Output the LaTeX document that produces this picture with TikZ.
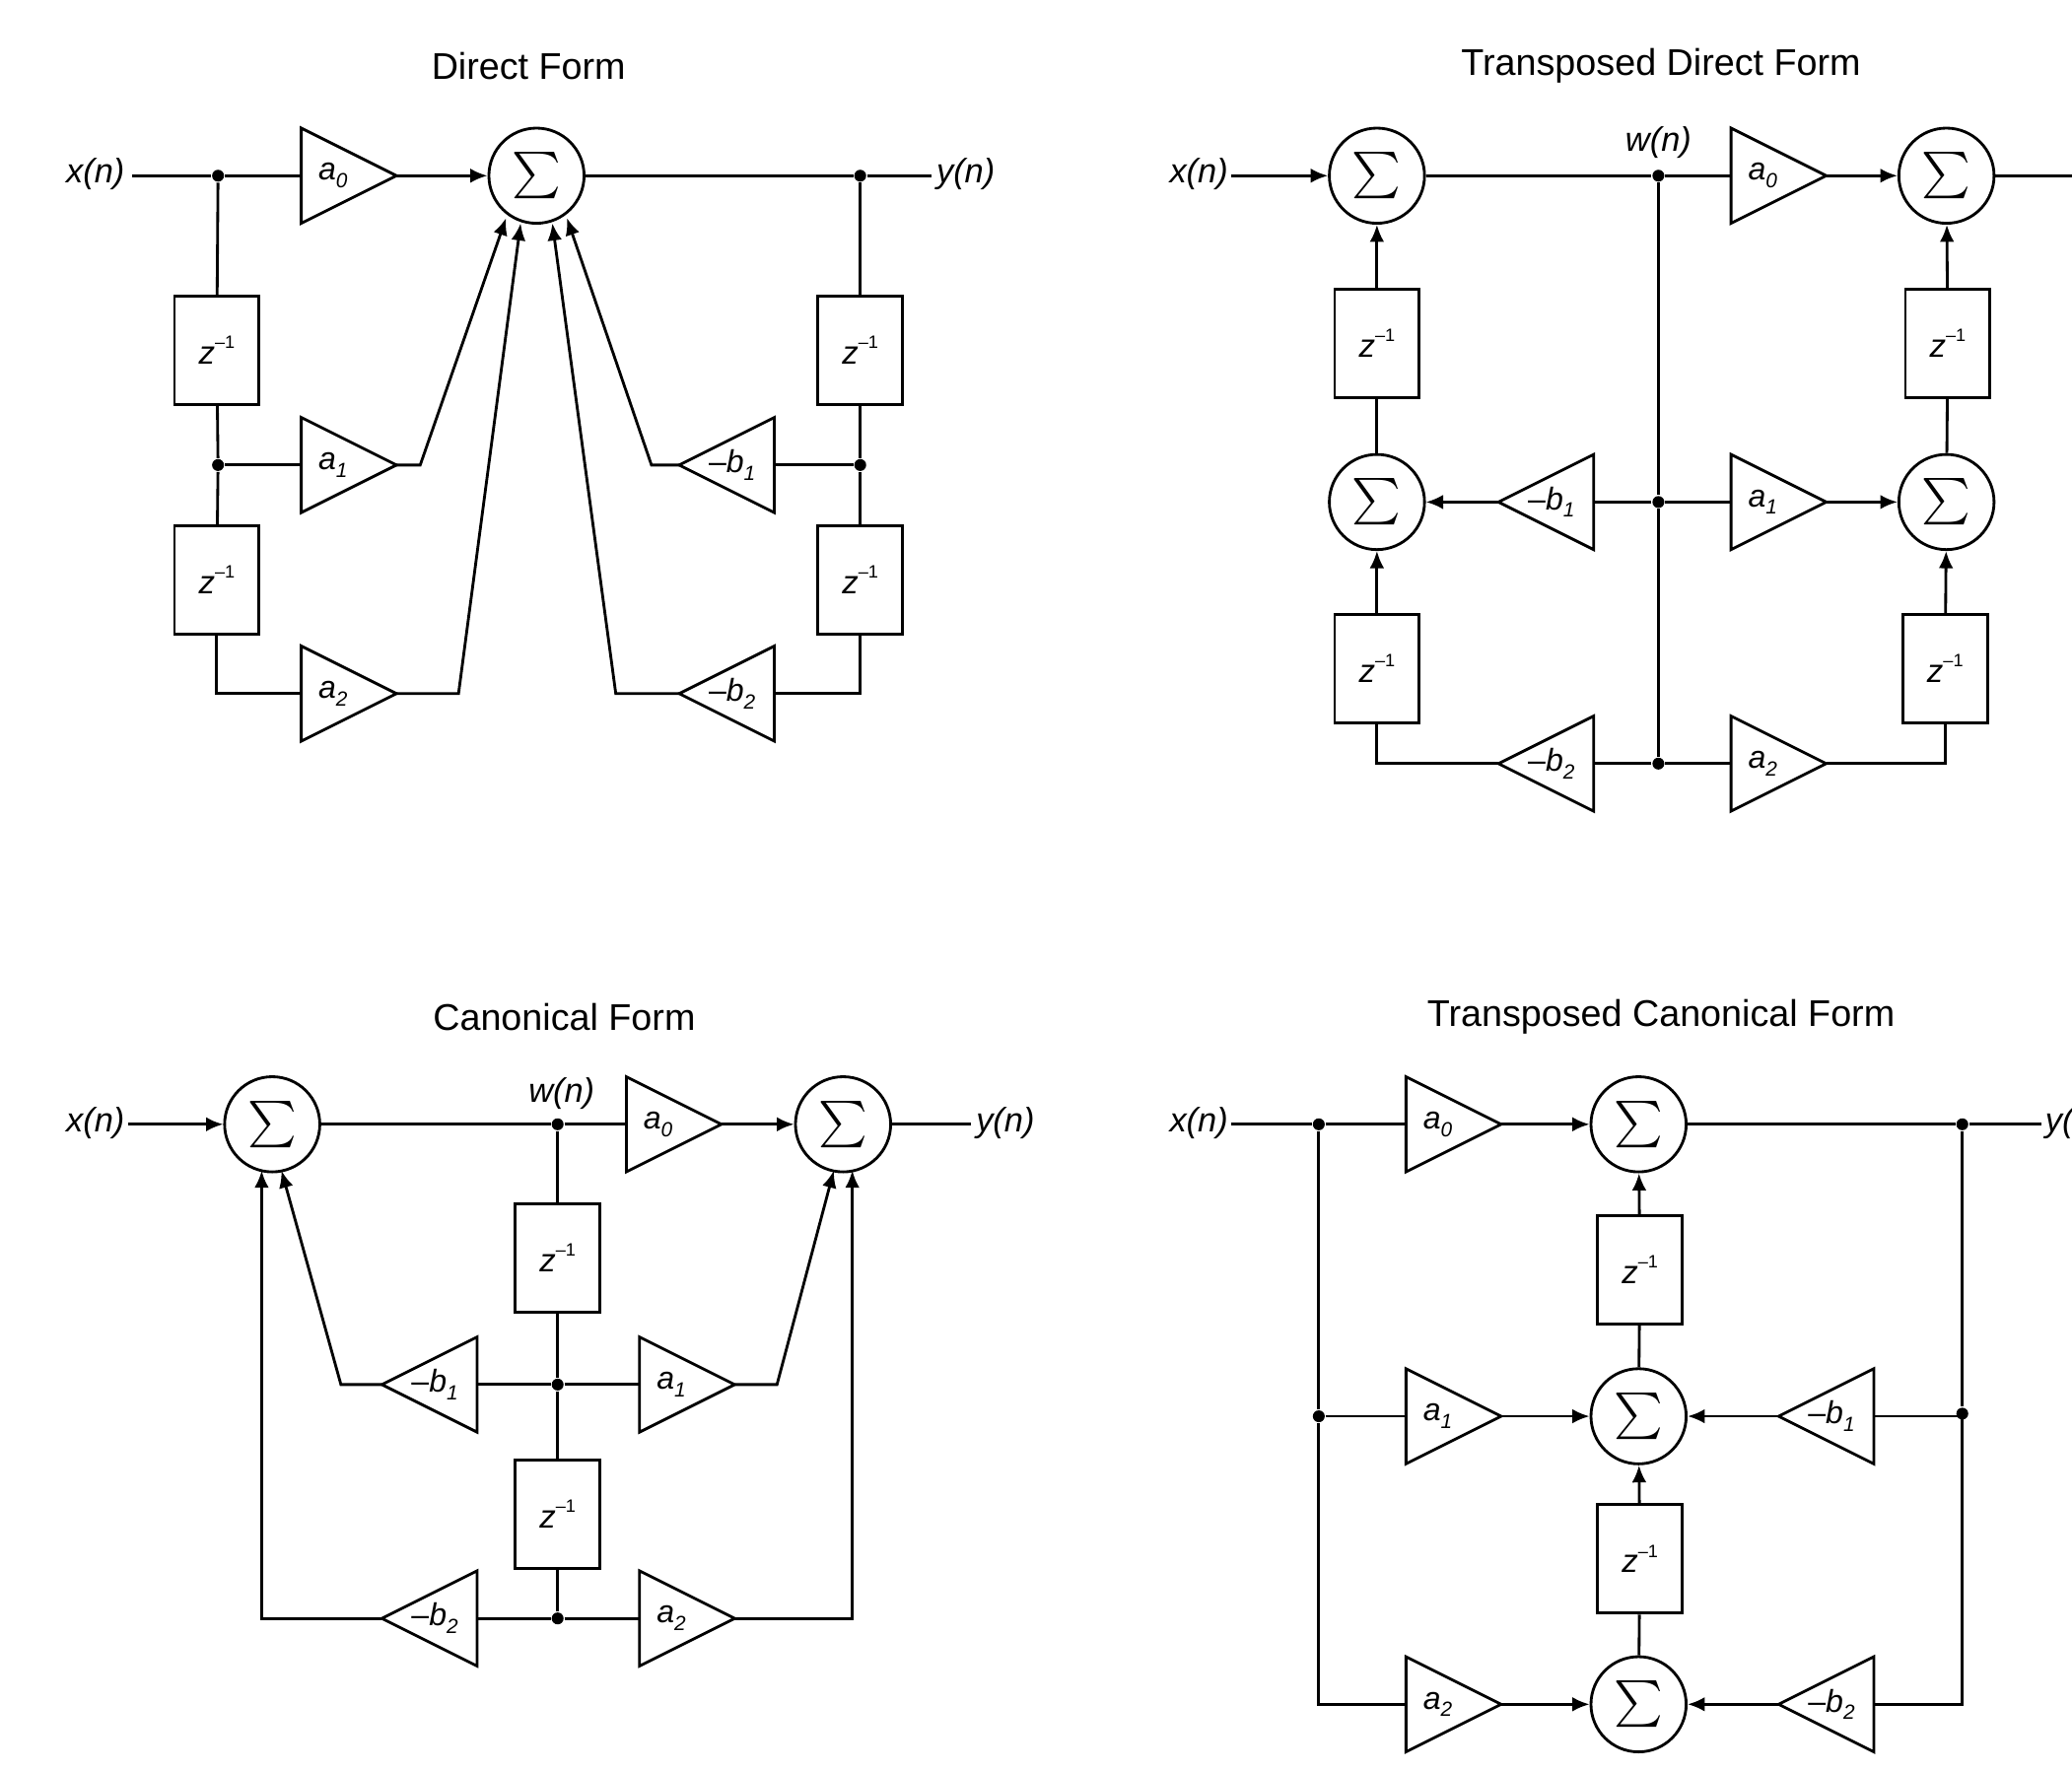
\documentclass[tikz,border=0pt]{standalone}
\usepackage{fontspec}
\setmainfont{Liberation Sans}
\usetikzlibrary{arrows.meta}
\newcommand\lab[2]{\textit{#1}\raisebox{-0.45ex}{\scalebox{0.65}{\textit{#2}}}}
\newcommand\zinv{\textit{z}\raisebox{0.9ex}{\scalebox{0.55}{–1}}}
\newcommand\ampR[4]{%
  \draw[wire] ({#2},{#3-36}) -- ({#2+72},{#3}) -- ({#2},{#3+36}) -- cycle;
  \coordinate (#1-in) at ({#2},{#3}); \coordinate (#1-out) at ({#2+72},{#3});
  \node[alab] (#1) at ({#2+24},{#3}) {#4};}
\newcommand\ampL[4]{%
  \draw[wire] ({#2},{#3-36}) -- ({#2-72},{#3}) -- ({#2},{#3+36}) -- cycle;
  \coordinate (#1-in) at ({#2},{#3}); \coordinate (#1-out) at ({#2-72},{#3});
  \node[alab] (#1) at ({#2-32},{#3}) {#4};}
\tikzset{
  wire/.style={line width=0.6pt},
  arr/.style={wire,-{Latex[length=0.13cm,width=0.11cm]}},
  sum/.style={wire,draw,circle,minimum size=0.72cm,inner sep=0pt,font=\fontsize{13pt}{13pt}\selectfont},
  dly/.style={wire,draw,minimum width=0.64cm,minimum height=0.82cm,inner sep=0pt,font=\fontsize{7pt}{8pt}\selectfont},
  dot/.style={circle,fill,inner sep=0pt,minimum size=0.09cm},
  alab/.style={inner sep=0pt,font=\fontsize{6.8pt}{8pt}\selectfont},
  sig/.style={inner sep=0pt,font=\fontsize{7.3pt}{9pt}\selectfont},
  ttl/.style={inner sep=0pt,font=\fontsize{8pt}{10pt}\selectfont},
}
\begin{document}
\begin{tikzpicture}[x=0.01cm,y=-0.01cm]
\useasboundingbox (0,0) rectangle (1568,1340);
\clip (0,0) rectangle (1568,1340);
% ---------- Panel 1: Direct Form
\node[ttl] (t1) at (400,50) {Direct Form};
\node[sig,anchor=east] (x1) at (95,132) {\textit{x(n)}};
\coordinate (x1c) at (100,133);
\node[dot] (p1d1) at (165,133) {};
\ampR{p1a0}{228}{133}{\lab{a}{0}}
\node[sum] (p1S) at (406,133) {$\sum$};
\node[dot] (p1d2) at (651,133) {};
\coordinate (p1ye) at (705,133);
\node[sig,anchor=west] (y1) at (708,132) {\textit{y(n)}};
\draw[wire] (x1c) -- (p1d1) -- (p1a0-in);
\draw[arr] (p1a0-out) -- (p1S);
\draw[wire] (p1S) -- (p1d2) -- (p1ye);
\node[dly] (p1B1) at (164,265) {\zinv};
\node[dot] (p1d3) at (165,352) {};
\node[dly] (p1B2) at (164,439) {\zinv};
\ampR{p1a1}{228}{352}{\lab{a}{1}}
\ampR{p1a2}{228}{525}{\lab{a}{2}}
\draw[wire] (p1d1) -- (p1B1) -- (p1d3) -- (p1B2);
\draw[wire] (p1B2) |- (p1a2-in);
\draw[wire] (p1d3) -- (p1a1-in);
\coordinate (p1k1) at (318,352); \coordinate (p1k2) at (347,525);
\coordinate (p1k3) at (493,352); \coordinate (p1k4) at (466,525);
\draw[arr] (p1a1-out) -- (p1k1) -- (383,165);
\draw[arr] (p1a2-out) -- (p1k2) -- (394,169);
\node[dly] (p1B3) at (651,265) {\zinv};
\node[dot] (p1d4) at (651,352) {};
\node[dly] (p1B4) at (651,439) {\zinv};
\ampL{p1b1}{586}{352}{–\lab{b}{1}}
\ampL{p1b2}{586}{525}{–\lab{b}{2}}
\draw[wire] (p1d2) -- (p1B3) -- (p1d4) -- (p1B4);
\draw[wire] (p1B4) |- (p1b2-in);
\draw[wire] (p1d4) -- (p1b1-in);
\draw[arr] (p1b1-out) -- (p1k3) -- (429,165);
\draw[arr] (p1b2-out) -- (p1k4) -- (418,169);
% ---------- Panel 2: Transposed Direct Form
\node[ttl] (t2) at (1257,50) {Transposed Direct Form};
\node[sig,anchor=east] (x2) at (930,132) {\textit{x(n)}};
\coordinate (x2c) at (932,133);
\node[sum] (p2S1) at (1042,133) {$\sum$};
\node[dot] (p2w) at (1255,133) {};
\node[sig] (w2) at (1255,108) {\textit{w(n)}};
\ampR{p2a0}{1310}{133}{\lab{a}{0}}
\node[sum] (p2S2) at (1473,133) {$\sum$};
\coordinate (p2ye) at (1580,133);
\draw[arr] (x2c) -- (p2S1);
\draw[wire] (p2S1) -- (p2w) -- (p2a0-in);
\draw[arr] (p2a0-out) -- (p2S2);
\draw[wire] (p2S2) -- (p2ye);
\node[dot] (p2d1) at (1255,380) {};
\node[dot] (p2d2) at (1255,578) {};
\draw[wire] (p2w) -- (p2d1) -- (p2d2);
\node[dly] (p2B1) at (1042,260) {\zinv};
\node[sum] (p2S3) at (1042,380) {$\sum$};
\node[dly] (p2B2) at (1042,506) {\zinv};
\draw[arr] (p2B1) -- (p2S1);
\draw[wire] (p2S3) -- (p2B1);
\draw[arr] (p2B2) -- (p2S3);
\ampL{p2b1}{1206}{380}{–\lab{b}{1}}
\ampL{p2b2}{1206}{578}{–\lab{b}{2}}
\draw[wire] (p2d1) -- (p2b1-in);
\draw[arr] (p2b1-out) -- (p2S3);
\draw[wire] (p2d2) -- (p2b2-in);
\draw[wire] (p2b2-out) -| (p2B2);
\ampR{p2a1}{1310}{380}{\lab{a}{1}}
\ampR{p2a2}{1310}{578}{\lab{a}{2}}
\node[sum] (p2S4) at (1473,380) {$\sum$};
\node[dly] (p2B3) at (1474,260) {\zinv};
\node[dly] (p2B4) at (1472,506) {\zinv};
\draw[wire] (p2d1) -- (p2a1-in);
\draw[arr] (p2a1-out) -- (p2S4);
\draw[arr] (p2B3) -- (p2S2);
\draw[wire] (p2S4) -- (p2B3);
\draw[arr] (p2B4) -- (p2S4);
\draw[wire] (p2d2) -- (p2a2-in);
\draw[wire] (p2a2-out) -| (p2B4);
% ---------- Panel 3: Canonical Form
\node[ttl] (t3) at (427,770) {Canonical Form};
\node[sig,anchor=east] (x3) at (95,850) {\textit{x(n)}};
\coordinate (x3c) at (97,851);
\node[sum] (p3S1) at (206,851) {$\sum$};
\node[dot] (p3w) at (422,851) {};
\node[sig] (w3) at (425,828) {\textit{w(n)}};
\ampR{p3a0}{474}{851}{\lab{a}{0}}
\node[sum] (p3S2) at (638,851) {$\sum$};
\coordinate (p3ye) at (735,851);
\node[sig,anchor=west] (y3) at (738,850) {\textit{y(n)}};
\draw[arr] (x3c) -- (p3S1);
\draw[wire] (p3S1) -- (p3w) -- (p3a0-in);
\draw[arr] (p3a0-out) -- (p3S2);
\draw[wire] (p3S2) -- (p3ye);
\node[dly] (p3B1) at (422,952) {\zinv};
\node[dot] (p3d1) at (422,1048) {};
\node[dly] (p3B2) at (422,1146) {\zinv};
\node[dot] (p3d2) at (422,1225) {};
\draw[wire] (p3w) -- (p3B1) -- (p3d1) -- (p3B2) -- (p3d2);
\ampL{p3b1}{361}{1048}{–\lab{b}{1}}
\ampL{p3b2}{361}{1225}{–\lab{b}{2}}
\ampR{p3a1}{484}{1048}{\lab{a}{1}}
\ampR{p3a2}{484}{1225}{\lab{a}{2}}
\draw[wire] (p3d1) -- (p3b1-in); \draw[wire] (p3d1) -- (p3a1-in);
\draw[wire] (p3d2) -- (p3b2-in); \draw[wire] (p3d2) -- (p3a2-in);
\draw[arr] (p3b1-out) -- (258,1048) -- (213,886);
\draw[arr] (p3a1-out) -- (588,1048) -- (631,886);
\draw[arr] (p3b2-out) -- (198,1225) -- (198,886);
\draw[arr] (p3a2-out) -- (645,1225) -- (645,886);
% ---------- Panel 4: Transposed Canonical Form
\node[ttl] (t4) at (1257,770) {Transposed Canonical Form};
\node[sig,anchor=east] (x4) at (930,850) {\textit{x(n)}};
\coordinate (x4c) at (932,851);
\node[dot] (p4d1) at (998,851) {};
\ampR{p4a0}{1064}{851}{\lab{a}{0}}
\node[sum] (p4S1) at (1240,851) {$\sum$};
\node[dot] (p4d2) at (1485,851) {};
\coordinate (p4ye) at (1545,851);
\node[sig,anchor=west] (y4) at (1547,850) {\textit{y(n)}};
\draw[wire] (x4c) -- (p4d1) -- (p4a0-in);
\draw[arr] (p4a0-out) -- (p4S1);
\draw[wire] (p4S1) -- (p4d2) -- (p4ye);
\node[dot] (p4d3) at (998,1072) {};
\coordinate (p4c1) at (998,1290);
\ampR{p4a1}{1064}{1072}{\lab{a}{1}}
\ampR{p4a2}{1064}{1290}{\lab{a}{2}}
\node[sum] (p4S2) at (1240,1072) {$\sum$};
\node[sum] (p4S3) at (1240,1290) {$\sum$};
\draw[wire] (p4d1) -- (p4d3) -- (p4c1) -- (p4a2-in);
\draw[wire] (p4d3) -- (p4a1-in);
\draw[arr] (p4a1-out) -- (p4S2);
\draw[arr] (p4a2-out) -- (p4S3);
\node[dly] (p4B1) at (1241,961) {\zinv};
\node[dly] (p4B2) at (1241,1180) {\zinv};
\draw[arr] (p4B1) -- (p4S1);
\draw[wire] (p4S2) -- (p4B1);
\draw[arr] (p4B2) -- (p4S2);
\draw[wire] (p4S3) -- (p4B2);
\node[dot] (p4d4) at (1485,1070) {};
\coordinate (p4c2) at (1485,1290);
\ampL{p4b1}{1418}{1072}{–\lab{b}{1}}
\ampL{p4b2}{1418}{1290}{–\lab{b}{2}}
\draw[wire] (p4d2) -- (p4d4) -- (p4c2) -- (p4b2-in);
\draw[wire] (p4d4) |- (p4b1-in);
\draw[arr] (p4b1-out) -- (p4S2);
\draw[arr] (p4b2-out) -- (p4S3);
\end{tikzpicture}
\end{document}
